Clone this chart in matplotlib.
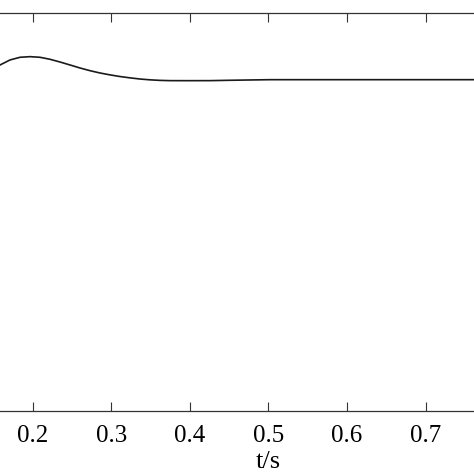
import matplotlib
matplotlib.use('Agg')
import matplotlib.pyplot as plt

# response (t in s, y in per-unit)
t_vals = [0.1584, 0.1711, 0.1838, 0.1966, 0.2093, 0.2220, 0.2347, 0.2475,
          0.2602, 0.2729, 0.2856, 0.2984, 0.3111, 0.3238, 0.3366, 0.3493,
          0.3620, 0.3747, 0.4002, 0.4256, 0.4511, 0.4765, 0.5020, 0.6000,
          0.7000, 0.7615]
y_vals = [1.0439, 1.0590, 1.0671, 1.0690, 1.0671, 1.0611, 1.0529, 1.0439,
          1.0348, 1.0267, 1.0197, 1.0140, 1.0090, 1.0050, 1.0015, 0.9990,
          0.9974, 0.9966, 0.9965, 0.9966, 0.9977, 0.9986, 0.9995, 0.9995,
          0.9995, 0.9995]
x_ticks = [0.2, 0.3, 0.4, 0.5, 0.6, 0.7]
x_label = 't/s'

plt.rcParams['font.family'] = ['Liberation Serif', 'DejaVu Serif']

fig = plt.figure(figsize=(4.74, 4.74), dpi=100)
ax = fig.add_axes([0, 0.1335, 1, 0.8385])

ax.plot(t_vals, y_vals, color='#1a1a1a', linewidth=1.2)

ax.set_xlim(t_vals[0], t_vals[-1])
ax.set_ylim(0, 1.2)
ax.set_xticks(x_ticks)
ax.set_xticklabels(['%.1f' % v for v in x_ticks])
ax.set_yticks([])
ax.tick_params(axis='x', direction='in', length=6.3, width=0.8, color='#333333',
               top=True, labelsize=18, pad=10)
for s in ['left', 'right']:
    ax.spines[s].set_visible(False)
for s in ['top', 'bottom']:
    ax.spines[s].set_color('#333333')
    ax.spines[s].set_linewidth(0.9)
ax.set_xlabel(x_label, fontsize=19, labelpad=3)
# the original axes is wider than the crop, its label sits under 0.5
ax.xaxis.label.set_x((0.5 - t_vals[0]) / (t_vals[-1] - t_vals[0]))

fig.savefig('out.png', dpi=100)
